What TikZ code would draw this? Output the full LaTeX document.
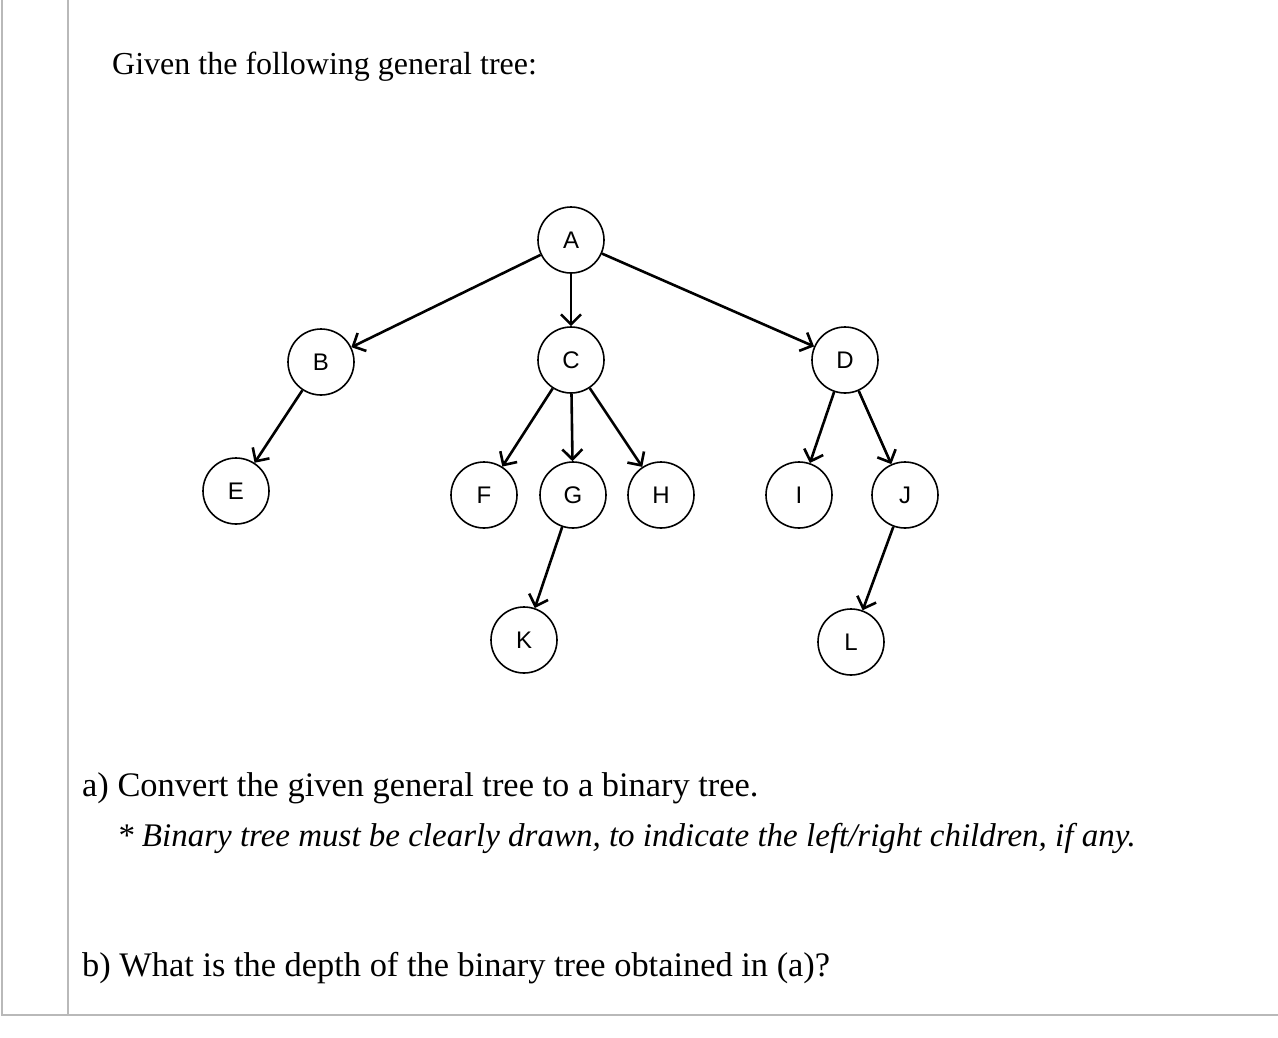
\documentclass[tikz,border=0pt]{standalone}
\usepackage{fontspec}
\setmainfont{Liberation Serif}
\newfontfamily\nodefont{Liberation Sans}
\usetikzlibrary{arrows.meta}
\begin{document}
\begin{tikzpicture}[x=1pt,y=-1pt,
  tn/.style={circle,draw,line width=1.6pt,minimum size=66pt,inner sep=0pt,font=\nodefont\fontsize{24}{28}\selectfont},
  ed/.style={line width=2.6pt,-{Straight Barb[length=10pt,width=20pt,line width=2.6pt]}},
  txt/.style={anchor=base west,inner sep=0pt,font=\fontsize{32}{36}\selectfont},
  txtb/.style={anchor=base west,inner sep=0pt,font=\fontsize{34.4}{38}\selectfont}]
\useasboundingbox (0,0) rectangle (1278,1037);
\draw[gray!55,line width=1.5pt] (2,0) -- (2,1015) -- (1278,1015);
\draw[gray!55,line width=1.5pt] (68,0) -- (68,1015);
\node[txt] (t0) at (112,74) {Given the following general tree:};
\node[tn] (A) at (571,240) {A};
\node[tn] (B) at (321,362) {B};
\node[tn] (C) at (571,360) {C};
\node[tn] (D) at (845,360) {D};
\node[tn] (E) at (236,491) {E};
\node[tn] (F) at (484,495) {F};
\node[tn] (G) at (573,495) {G};
\node[tn] (H) at (661,495) {H};
\node[tn] (I) at (799,495) {I};
\node[tn] (J) at (905,495) {J};
\node[tn] (K) at (524,640) {K};
\node[tn] (L) at (851,642) {L};
\foreach \a/\b in {A/B,A/C,A/D,B/E,C/F,C/G,C/H,D/I,D/J,G/K,J/L}
  \draw[ed] (\a) -- (\b);
\node[txtb] (ta) at (82,796) {a) Convert the given general tree to a binary tree.};
\node[txt,font=\fontsize{33}{37}\selectfont\itshape] (tb) at (117,846) {* Binary tree must be clearly drawn, to indicate the left/right children, if any.};
\node[txtb] (tc) at (82,976) {b) What is the depth of the binary tree obtained in (a)?};
\end{tikzpicture}
\end{document}
